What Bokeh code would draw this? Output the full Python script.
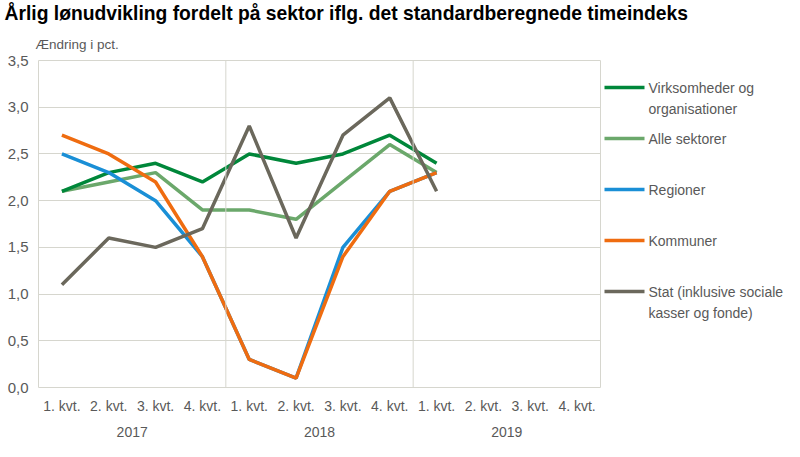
from bokeh.plotting import figure
from bokeh.layouts import column, row
from bokeh.models import FactorRange, Range1d, FixedTicker, CustomJSTickFormatter, Span
from bokeh.core.properties import value
from bokeh.embed import file_html
from bokeh.resources import INLINE

# Données (variation annuelle en %)
years = ["2017", "2018", "2019"]
quarters = ["1. kvt.", "2. kvt.", "3. kvt.", "4. kvt."]

virksomheder = [2.1, 2.3, 2.4, 2.2, 2.5, 2.4, 2.5, 2.7, 2.4]
alle_sektorer = [2.1, 2.2, 2.3, 1.9, 1.9, 1.8, 2.2, 2.6, 2.3]
regioner = [2.5, 2.3, 2.0, 1.4, 0.3, 0.1, 1.5, 2.1, 2.3]
kommuner = [2.7, 2.5, 2.2, 1.4, 0.3, 0.1, 1.4, 2.1, 2.3]
stat = [1.1, 1.6, 1.5, 1.7, 2.8, 1.6, 2.7, 3.1, 2.1]

y_ticks = [0, 0.5, 1.0, 1.5, 2.0, 2.5, 3.0, 3.5]

title = "Årlig lønudvikling fordelt på sektor iflg. det standardberegnede timeindeks"
unit_label = "Ændring i pct."

FONT = "Liberation Sans"
TEXT = "#595959"
GRID = "#d6d6ce"

# (lignes de légende, valeurs, couleur) dans l'ordre de la légende
series = [
    (["Virksomheder og", "organisationer"], virksomheder, "#00873a"),
    (["Alle sektorer"], alle_sektorer, "#6ba86b"),
    (["Regioner"], regioner, "#1a8fd6"),
    (["Kommuner"], kommuner, "#ef6c10"),
    (["Stat (inklusive sociale", " kasser og fonde)"], stat, "#6b685c"),
]
draw_order = [1, 0, 2, 3, 4]

factors = [(y, q) for y in years for q in quarters]

# Mise en page (pixels)
HEAD_H = 52
BODY_H = 389
BORDER_TOP, BORDER_BOTTOM = 8, 54
FRAME_TOP = HEAD_H + BORDER_TOP
FRAME_BOTTOM = HEAD_H + BODY_H - BORDER_BOTTOM


def blank(fig):
    # figure sans axes ni grille, en coordonnées pixels (y vers le bas)
    fig.axis.visible = False
    fig.grid.visible = False
    fig.outline_line_color = None
    return fig


# --- bandeau du titre ---
TW = 784
head = blank(figure(width=TW, height=HEAD_H, x_range=Range1d(0, TW), y_range=Range1d(HEAD_H, 0),
                    output_backend="svg", toolbar_location=None, min_border=0))
head.text(x=[4], y=[13], text=[title], text_baseline="middle", text_font=value(FONT),
          text_font_size="19.3px", text_font_style="bold", text_color="black")
head.text(x=[35], y=[44], text=[unit_label], text_baseline="middle", text_font=value(FONT),
          text_font_size="13.5px", text_color=TEXT)

# --- graphique principal ---
p = figure(
    width=601, height=BODY_H,
    x_range=FactorRange(*factors, range_padding=0, group_padding=0, factor_padding=0),
    y_range=Range1d(0, 3.5),
    output_backend="svg", toolbar_location=None,
    min_border_left=38, min_border_right=1,
    min_border_top=BORDER_TOP, min_border_bottom=BORDER_BOTTOM,
)
p.outline_line_color = GRID
p.xgrid.visible = False
p.ygrid.grid_line_color = GRID

p.yaxis.ticker = FixedTicker(ticks=y_ticks)
p.yaxis.formatter = CustomJSTickFormatter(code="return tick.toFixed(1).replace('.', ',')")
p.axis.axis_line_color = None
p.axis.major_tick_line_color = None
p.axis.minor_tick_line_color = None
p.axis.major_tick_out = 0
p.axis.major_tick_in = 0
p.yaxis.major_label_standoff = 10
p.yaxis.major_label_text_font_size = "15px"
p.xaxis.major_label_standoff = 10
p.xaxis.major_label_text_font_size = "14px"
p.axis.major_label_text_font = FONT
p.axis.major_label_text_color = TEXT
p.xaxis.group_text_font = FONT
p.xaxis.group_text_font_size = "14px"
p.xaxis.group_text_color = TEXT
p.xaxis.group_text_font_style = "normal"
p.xaxis.separator_line_color = None

# Séparateurs verticaux entre les années
for i in range(1, len(years)):
    p.add_layout(Span(location=i * len(quarters), dimension="height",
                      line_color=GRID, line_width=1))

for i in draw_order:
    _, vals, color = series[i]
    p.line(x=factors[:len(vals)], y=vals, line_color=color, line_width=3.5)

# --- légende (le cadre est aligné sur celui du graphique : y en pixels de page) ---
LW = 183
leg = blank(figure(width=LW, height=BODY_H, x_range=Range1d(0, LW),
                   y_range=Range1d(FRAME_BOTTOM, FRAME_TOP),
                   output_backend="svg", toolbar_location=None,
                   min_border_left=0, min_border_right=0,
                   min_border_top=BORDER_TOP, min_border_bottom=BORDER_BOTTOM))
for i, (lines, _, color) in enumerate(series):
    y0 = 87 + i * 51
    leg.line(x=[3, 43], y=[y0, y0], line_color=color, line_width=3.5)
    leg.text(x=[47] * len(lines), y=[y0 + j * 21 for j in range(len(lines))], text=lines,
             text_baseline="middle", text_font=value(FONT), text_font_size="14px",
             text_color=TEXT)

layout = column(head, row(p, leg))
open("out.html", "w").write(file_html(layout, INLINE))
